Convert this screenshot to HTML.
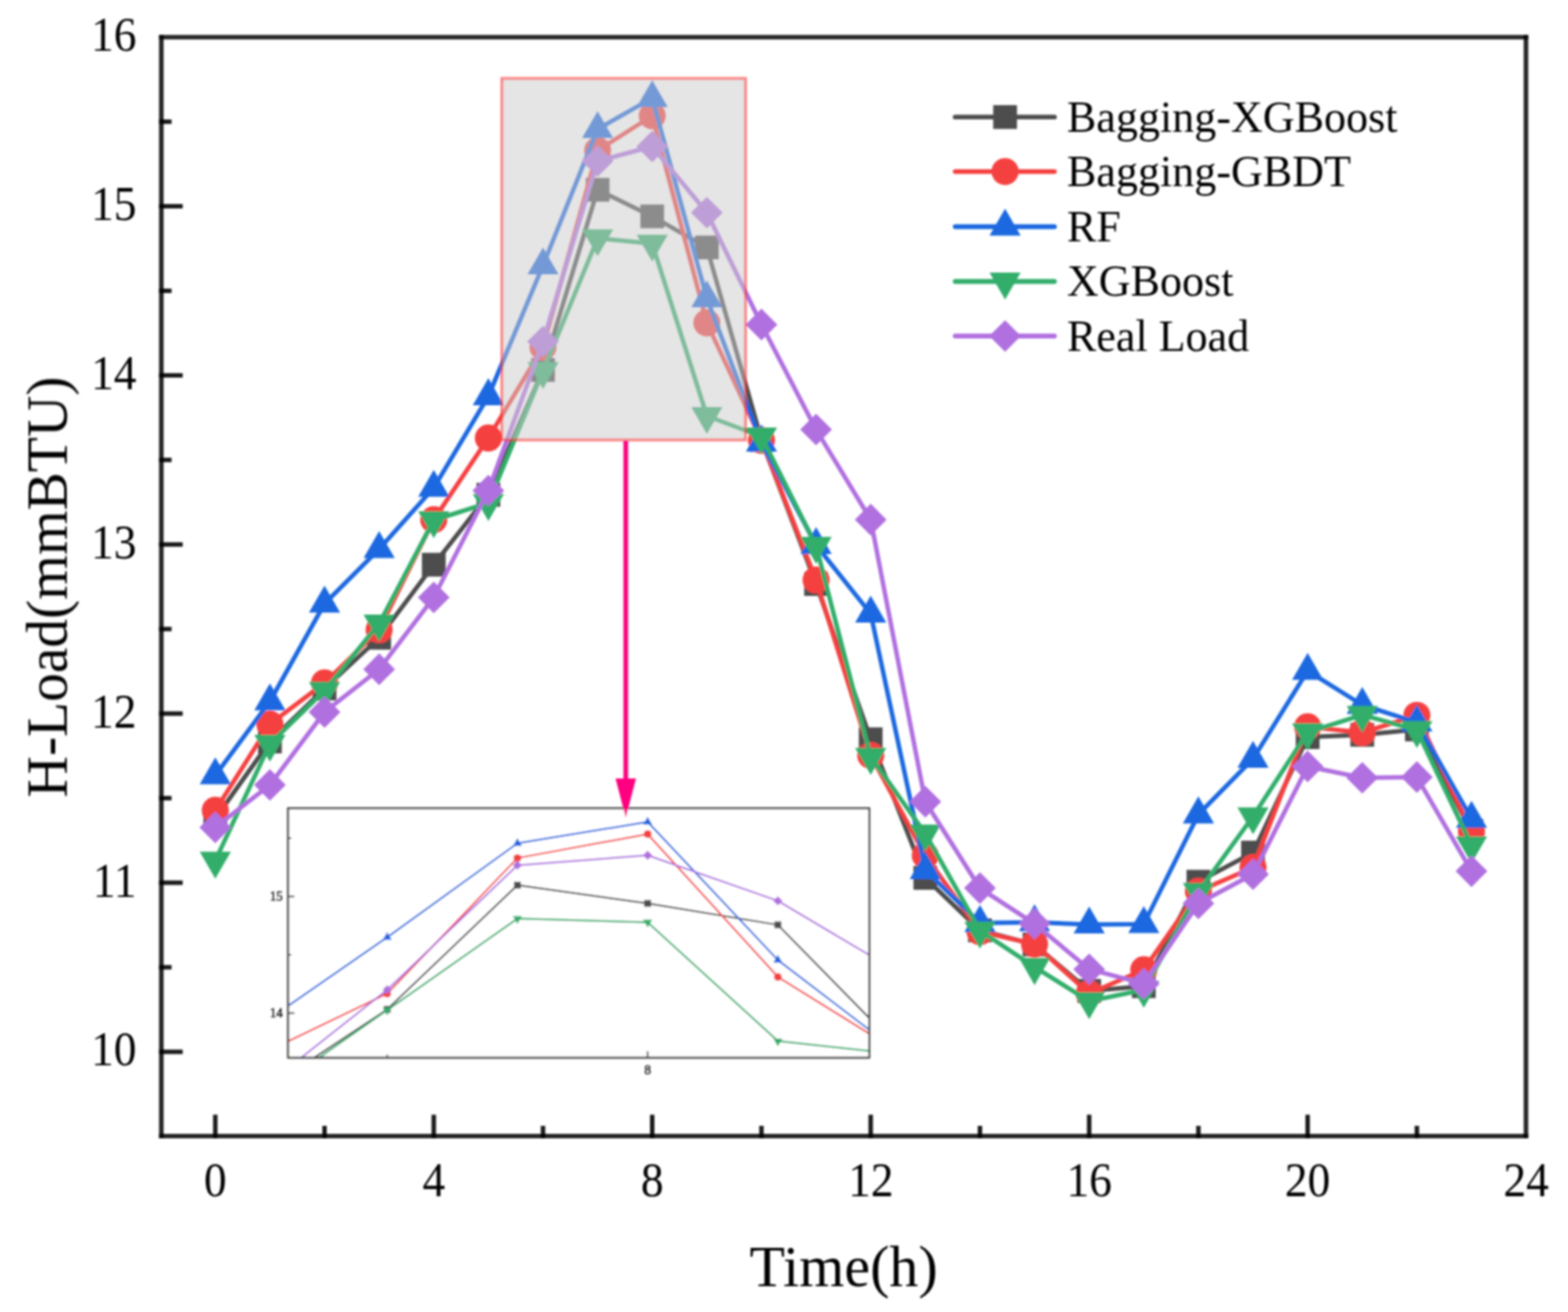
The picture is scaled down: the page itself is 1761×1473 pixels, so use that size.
<!DOCTYPE html>
<html lang="en"><head><meta charset="utf-8"><title>H-Load forecast comparison</title>
<style>html,body{margin:0;padding:0;background:#fff;}body{width:1761px;height:1473px;overflow:hidden;}svg{display:block;}text{font-family:"Liberation Serif","Times New Roman",serif;fill:#000;}</style>
</head><body>
<svg width="1761" height="1473" viewBox="0 0 1761 1473">
<defs><filter id="bl" x="-2%" y="-2%" width="104%" height="104%"><feGaussianBlur stdDeviation="0.8"/></filter></defs>
<rect x="0" y="0" width="1761" height="1473" fill="#ffffff"/>
<g filter="url(#bl)">
<g id="series" stroke-linejoin="round" stroke-linecap="round">
<polyline points="241.80,919.00 303.14,832.50 364.48,773.00 425.82,716.00 487.16,634.00 548.50,555.50 609.84,415.40 671.18,213.10 732.52,242.90 793.86,277.80 855.20,494.00 916.54,655.70 977.88,830.00 1039.22,985.60 1100.56,1044.50 1161.90,1060.40 1223.24,1112.50 1284.58,1107.20 1345.92,989.90 1407.26,957.20 1468.60,827.60 1529.94,825.00 1591.28,819.00 1652.62,933.00" fill="none" stroke="#4d4d4d" stroke-width="5.0"/>
<rect x="228.45" y="905.65" width="26.70" height="26.70" fill="#4d4d4d"/>
<rect x="289.79" y="819.15" width="26.70" height="26.70" fill="#4d4d4d"/>
<rect x="351.13" y="759.65" width="26.70" height="26.70" fill="#4d4d4d"/>
<rect x="412.47" y="702.65" width="26.70" height="26.70" fill="#4d4d4d"/>
<rect x="473.81" y="620.65" width="26.70" height="26.70" fill="#4d4d4d"/>
<rect x="535.15" y="542.15" width="26.70" height="26.70" fill="#4d4d4d"/>
<rect x="596.49" y="402.05" width="26.70" height="26.70" fill="#4d4d4d"/>
<rect x="657.83" y="199.75" width="26.70" height="26.70" fill="#4d4d4d"/>
<rect x="719.17" y="229.55" width="26.70" height="26.70" fill="#4d4d4d"/>
<rect x="780.51" y="264.45" width="26.70" height="26.70" fill="#4d4d4d"/>
<rect x="841.85" y="480.65" width="26.70" height="26.70" fill="#4d4d4d"/>
<rect x="903.19" y="642.35" width="26.70" height="26.70" fill="#4d4d4d"/>
<rect x="964.53" y="816.65" width="26.70" height="26.70" fill="#4d4d4d"/>
<rect x="1025.87" y="972.25" width="26.70" height="26.70" fill="#4d4d4d"/>
<rect x="1087.21" y="1031.15" width="26.70" height="26.70" fill="#4d4d4d"/>
<rect x="1148.55" y="1047.05" width="26.70" height="26.70" fill="#4d4d4d"/>
<rect x="1209.89" y="1099.15" width="26.70" height="26.70" fill="#4d4d4d"/>
<rect x="1271.23" y="1093.85" width="26.70" height="26.70" fill="#4d4d4d"/>
<rect x="1332.57" y="976.55" width="26.70" height="26.70" fill="#4d4d4d"/>
<rect x="1393.91" y="943.85" width="26.70" height="26.70" fill="#4d4d4d"/>
<rect x="1455.25" y="814.25" width="26.70" height="26.70" fill="#4d4d4d"/>
<rect x="1516.59" y="811.65" width="26.70" height="26.70" fill="#4d4d4d"/>
<rect x="1577.93" y="805.65" width="26.70" height="26.70" fill="#4d4d4d"/>
<rect x="1639.27" y="919.65" width="26.70" height="26.70" fill="#4d4d4d"/>
<polyline points="241.80,909.80 303.14,813.00 364.48,766.70 425.82,707.00 487.16,583.50 548.50,491.70 609.84,389.80 671.18,169.00 732.52,130.00 793.86,362.50 855.20,494.20 916.54,651.20 977.88,848.10 1039.22,960.60 1100.56,1046.00 1161.90,1060.10 1223.24,1115.50 1284.58,1088.70 1345.92,1000.60 1407.26,974.00 1468.60,815.90 1529.94,822.50 1591.28,803.10 1652.62,933.80" fill="none" stroke="#f54040" stroke-width="5.0"/>
<circle cx="241.80" cy="909.80" r="15.20" fill="#f54040"/>
<circle cx="303.14" cy="813.00" r="15.20" fill="#f54040"/>
<circle cx="364.48" cy="766.70" r="15.20" fill="#f54040"/>
<circle cx="425.82" cy="707.00" r="15.20" fill="#f54040"/>
<circle cx="487.16" cy="583.50" r="15.20" fill="#f54040"/>
<circle cx="548.50" cy="491.70" r="15.20" fill="#f54040"/>
<circle cx="609.84" cy="389.80" r="15.20" fill="#f54040"/>
<circle cx="671.18" cy="169.00" r="15.20" fill="#f54040"/>
<circle cx="732.52" cy="130.00" r="15.20" fill="#f54040"/>
<circle cx="793.86" cy="362.50" r="15.20" fill="#f54040"/>
<circle cx="855.20" cy="494.20" r="15.20" fill="#f54040"/>
<circle cx="916.54" cy="651.20" r="15.20" fill="#f54040"/>
<circle cx="977.88" cy="848.10" r="15.20" fill="#f54040"/>
<circle cx="1039.22" cy="960.60" r="15.20" fill="#f54040"/>
<circle cx="1100.56" cy="1046.00" r="15.20" fill="#f54040"/>
<circle cx="1161.90" cy="1060.10" r="15.20" fill="#f54040"/>
<circle cx="1223.24" cy="1115.50" r="15.20" fill="#f54040"/>
<circle cx="1284.58" cy="1088.70" r="15.20" fill="#f54040"/>
<circle cx="1345.92" cy="1000.60" r="15.20" fill="#f54040"/>
<circle cx="1407.26" cy="974.00" r="15.20" fill="#f54040"/>
<circle cx="1468.60" cy="815.90" r="15.20" fill="#f54040"/>
<circle cx="1529.94" cy="822.50" r="15.20" fill="#f54040"/>
<circle cx="1591.28" cy="803.10" r="15.20" fill="#f54040"/>
<circle cx="1652.62" cy="933.80" r="15.20" fill="#f54040"/>
<polyline points="241.80,870.40 303.14,787.50 364.48,677.70 425.82,616.50 487.16,547.70 548.50,444.80 609.84,298.00 671.18,145.00 732.52,110.20 793.86,335.00 855.20,496.80 916.54,612.00 977.88,689.00 1039.22,976.80 1100.56,1036.30 1161.90,1035.40 1223.24,1038.00 1284.58,1037.50 1345.92,914.30 1407.26,852.00 1468.60,753.20 1529.94,791.50 1591.28,811.10 1652.62,919.30" fill="none" stroke="#1a68e0" stroke-width="5.0"/>
<polygon points="241.80,850.20 259.30,880.50 224.30,880.50" fill="#1a68e0"/>
<polygon points="303.14,767.30 320.64,797.60 285.64,797.60" fill="#1a68e0"/>
<polygon points="364.48,657.50 381.98,687.80 346.98,687.80" fill="#1a68e0"/>
<polygon points="425.82,596.30 443.32,626.60 408.32,626.60" fill="#1a68e0"/>
<polygon points="487.16,527.50 504.66,557.80 469.66,557.80" fill="#1a68e0"/>
<polygon points="548.50,424.60 566.00,454.90 531.00,454.90" fill="#1a68e0"/>
<polygon points="609.84,277.80 627.34,308.10 592.34,308.10" fill="#1a68e0"/>
<polygon points="671.18,124.80 688.68,155.10 653.68,155.10" fill="#1a68e0"/>
<polygon points="732.52,90.00 750.02,120.30 715.02,120.30" fill="#1a68e0"/>
<polygon points="793.86,314.80 811.36,345.10 776.36,345.10" fill="#1a68e0"/>
<polygon points="855.20,476.60 872.70,506.90 837.70,506.90" fill="#1a68e0"/>
<polygon points="916.54,591.80 934.04,622.10 899.04,622.10" fill="#1a68e0"/>
<polygon points="977.88,668.80 995.38,699.10 960.38,699.10" fill="#1a68e0"/>
<polygon points="1039.22,956.60 1056.72,986.90 1021.72,986.90" fill="#1a68e0"/>
<polygon points="1100.56,1016.10 1118.06,1046.40 1083.06,1046.40" fill="#1a68e0"/>
<polygon points="1161.90,1015.20 1179.40,1045.50 1144.40,1045.50" fill="#1a68e0"/>
<polygon points="1223.24,1017.80 1240.74,1048.10 1205.74,1048.10" fill="#1a68e0"/>
<polygon points="1284.58,1017.30 1302.08,1047.60 1267.08,1047.60" fill="#1a68e0"/>
<polygon points="1345.92,894.10 1363.42,924.40 1328.42,924.40" fill="#1a68e0"/>
<polygon points="1407.26,831.80 1424.76,862.10 1389.76,862.10" fill="#1a68e0"/>
<polygon points="1468.60,733.00 1486.10,763.30 1451.10,763.30" fill="#1a68e0"/>
<polygon points="1529.94,771.30 1547.44,801.60 1512.44,801.60" fill="#1a68e0"/>
<polygon points="1591.28,790.90 1608.78,821.20 1573.78,821.20" fill="#1a68e0"/>
<polygon points="1652.62,899.10 1670.12,929.40 1635.12,929.40" fill="#1a68e0"/>
<polyline points="241.80,966.30 303.14,835.00 364.48,775.50 425.82,700.20 487.16,584.00 548.50,564.70 609.84,416.60 671.18,267.60 732.52,273.60 793.86,467.00 855.20,490.00 916.54,612.90 977.88,849.80 1039.22,935.90 1100.56,1044.80 1161.90,1085.70 1223.24,1124.00 1284.58,1111.20 1345.92,1001.30 1407.26,916.60 1468.60,822.20 1529.94,802.60 1591.28,819.60 1652.62,949.10" fill="none" stroke="#30ad6b" stroke-width="5.0"/>
<polygon points="241.80,986.50 259.30,956.20 224.30,956.20" fill="#30ad6b"/>
<polygon points="303.14,855.20 320.64,824.90 285.64,824.90" fill="#30ad6b"/>
<polygon points="364.48,795.70 381.98,765.40 346.98,765.40" fill="#30ad6b"/>
<polygon points="425.82,720.40 443.32,690.10 408.32,690.10" fill="#30ad6b"/>
<polygon points="487.16,604.20 504.66,573.90 469.66,573.90" fill="#30ad6b"/>
<polygon points="548.50,584.90 566.00,554.60 531.00,554.60" fill="#30ad6b"/>
<polygon points="609.84,436.80 627.34,406.50 592.34,406.50" fill="#30ad6b"/>
<polygon points="671.18,287.80 688.68,257.50 653.68,257.50" fill="#30ad6b"/>
<polygon points="732.52,293.80 750.02,263.50 715.02,263.50" fill="#30ad6b"/>
<polygon points="793.86,487.20 811.36,456.90 776.36,456.90" fill="#30ad6b"/>
<polygon points="855.20,510.20 872.70,479.90 837.70,479.90" fill="#30ad6b"/>
<polygon points="916.54,633.10 934.04,602.80 899.04,602.80" fill="#30ad6b"/>
<polygon points="977.88,870.00 995.38,839.70 960.38,839.70" fill="#30ad6b"/>
<polygon points="1039.22,956.10 1056.72,925.80 1021.72,925.80" fill="#30ad6b"/>
<polygon points="1100.56,1065.00 1118.06,1034.70 1083.06,1034.70" fill="#30ad6b"/>
<polygon points="1161.90,1105.90 1179.40,1075.60 1144.40,1075.60" fill="#30ad6b"/>
<polygon points="1223.24,1144.20 1240.74,1113.90 1205.74,1113.90" fill="#30ad6b"/>
<polygon points="1284.58,1131.40 1302.08,1101.10 1267.08,1101.10" fill="#30ad6b"/>
<polygon points="1345.92,1021.50 1363.42,991.20 1328.42,991.20" fill="#30ad6b"/>
<polygon points="1407.26,936.80 1424.76,906.50 1389.76,906.50" fill="#30ad6b"/>
<polygon points="1468.60,842.40 1486.10,812.10 1451.10,812.10" fill="#30ad6b"/>
<polygon points="1529.94,822.80 1547.44,792.50 1512.44,792.50" fill="#30ad6b"/>
<polygon points="1591.28,839.80 1608.78,809.50 1573.78,809.50" fill="#30ad6b"/>
<polygon points="1652.62,969.30 1670.12,939.00 1635.12,939.00" fill="#30ad6b"/>
<polyline points="241.80,928.90 303.14,881.20 364.48,799.40 425.82,751.40 487.16,670.70 548.50,550.80 609.84,383.50 671.18,180.70 732.52,164.50 793.86,238.70 855.20,364.40 916.54,482.30 977.88,583.40 1039.22,900.10 1100.56,997.10 1161.90,1037.10 1223.24,1088.20 1284.58,1104.40 1345.92,1014.20 1407.26,981.50 1468.60,860.50 1529.94,873.30 1591.28,872.40 1652.62,978.10" fill="none" stroke="#b070e0" stroke-width="5.0"/>
<polygon points="241.80,911.10 259.60,928.90 241.80,946.70 224.00,928.90" fill="#b070e0"/>
<polygon points="303.14,863.40 320.94,881.20 303.14,899.00 285.34,881.20" fill="#b070e0"/>
<polygon points="364.48,781.60 382.28,799.40 364.48,817.20 346.68,799.40" fill="#b070e0"/>
<polygon points="425.82,733.60 443.62,751.40 425.82,769.20 408.02,751.40" fill="#b070e0"/>
<polygon points="487.16,652.90 504.96,670.70 487.16,688.50 469.36,670.70" fill="#b070e0"/>
<polygon points="548.50,533.00 566.30,550.80 548.50,568.60 530.70,550.80" fill="#b070e0"/>
<polygon points="609.84,365.70 627.64,383.50 609.84,401.30 592.04,383.50" fill="#b070e0"/>
<polygon points="671.18,162.90 688.98,180.70 671.18,198.50 653.38,180.70" fill="#b070e0"/>
<polygon points="732.52,146.70 750.32,164.50 732.52,182.30 714.72,164.50" fill="#b070e0"/>
<polygon points="793.86,220.90 811.66,238.70 793.86,256.50 776.06,238.70" fill="#b070e0"/>
<polygon points="855.20,346.60 873.00,364.40 855.20,382.20 837.40,364.40" fill="#b070e0"/>
<polygon points="916.54,464.50 934.34,482.30 916.54,500.10 898.74,482.30" fill="#b070e0"/>
<polygon points="977.88,565.60 995.68,583.40 977.88,601.20 960.08,583.40" fill="#b070e0"/>
<polygon points="1039.22,882.30 1057.02,900.10 1039.22,917.90 1021.42,900.10" fill="#b070e0"/>
<polygon points="1100.56,979.30 1118.36,997.10 1100.56,1014.90 1082.76,997.10" fill="#b070e0"/>
<polygon points="1161.90,1019.30 1179.70,1037.10 1161.90,1054.90 1144.10,1037.10" fill="#b070e0"/>
<polygon points="1223.24,1070.40 1241.04,1088.20 1223.24,1106.00 1205.44,1088.20" fill="#b070e0"/>
<polygon points="1284.58,1086.60 1302.38,1104.40 1284.58,1122.20 1266.78,1104.40" fill="#b070e0"/>
<polygon points="1345.92,996.40 1363.72,1014.20 1345.92,1032.00 1328.12,1014.20" fill="#b070e0"/>
<polygon points="1407.26,963.70 1425.06,981.50 1407.26,999.30 1389.46,981.50" fill="#b070e0"/>
<polygon points="1468.60,842.70 1486.40,860.50 1468.60,878.30 1450.80,860.50" fill="#b070e0"/>
<polygon points="1529.94,855.50 1547.74,873.30 1529.94,891.10 1512.14,873.30" fill="#b070e0"/>
<polygon points="1591.28,854.60 1609.08,872.40 1591.28,890.20 1573.48,872.40" fill="#b070e0"/>
<polygon points="1652.62,960.30 1670.42,978.10 1652.62,995.90 1634.82,978.10" fill="#b070e0"/>
</g>
<rect x="563.6" y="88.0" width="273.7" height="405.9" fill="#cccccc" fill-opacity="0.5" stroke="#ff2a2a" stroke-opacity="0.55" stroke-width="3.2"/>
<clipPath id="ic"><rect x="323.6" y="907.5" width="652.6" height="279.9"/></clipPath>
<rect x="323.6" y="907.5" width="652.6" height="279.9" fill="#ffffff" stroke="none"/>
<g clip-path="url(#ic)" stroke-linejoin="round">
<polyline points="142.34,1284.01 288.60,1229.88 434.85,1133.27 581.11,993.77 727.37,1014.32 873.62,1038.38 1019.88,1187.47 1166.14,1298.97" fill="none" stroke="#4d4d4d" stroke-width="2.0"/>
<rect x="284.72" y="1226.01" width="7.74" height="7.74" fill="#4d4d4d"/>
<rect x="430.98" y="1129.40" width="7.74" height="7.74" fill="#4d4d4d"/>
<rect x="577.24" y="989.89" width="7.74" height="7.74" fill="#4d4d4d"/>
<rect x="723.50" y="1010.44" width="7.74" height="7.74" fill="#4d4d4d"/>
<rect x="869.75" y="1034.51" width="7.74" height="7.74" fill="#4d4d4d"/>
<rect x="1016.01" y="1183.60" width="7.74" height="7.74" fill="#4d4d4d"/>
<polyline points="142.34,1249.19 288.60,1185.88 434.85,1115.61 581.11,963.36 727.37,936.46 873.62,1096.79 1019.88,1187.61 1166.14,1295.87" fill="none" stroke="#f54040" stroke-width="2.0"/>
<circle cx="288.60" cy="1185.88" r="4.41" fill="#f54040"/>
<circle cx="434.85" cy="1115.61" r="4.41" fill="#f54040"/>
<circle cx="581.11" cy="963.36" r="4.41" fill="#f54040"/>
<circle cx="727.37" cy="936.46" r="4.41" fill="#f54040"/>
<circle cx="873.62" cy="1096.79" r="4.41" fill="#f54040"/>
<circle cx="1019.88" cy="1187.61" r="4.41" fill="#f54040"/>
<polyline points="142.34,1224.50 288.60,1153.54 434.85,1052.31 581.11,946.81 727.37,922.81 873.62,1077.83 1019.88,1189.40 1166.14,1268.84" fill="none" stroke="#1a68e0" stroke-width="2.0"/>
<polygon points="288.60,1147.68 293.67,1156.47 283.52,1156.47" fill="#1a68e0"/>
<polygon points="434.85,1046.45 439.93,1055.24 429.78,1055.24" fill="#1a68e0"/>
<polygon points="581.11,940.95 586.18,949.73 576.03,949.73" fill="#1a68e0"/>
<polygon points="727.37,916.95 732.44,925.74 722.29,925.74" fill="#1a68e0"/>
<polygon points="873.62,1071.97 878.70,1080.75 868.55,1080.75" fill="#1a68e0"/>
<polygon points="1019.88,1183.54 1024.96,1192.33 1014.81,1192.33" fill="#1a68e0"/>
<polyline points="142.34,1249.53 288.60,1236.22 434.85,1134.10 581.11,1031.35 727.37,1035.49 873.62,1168.85 1019.88,1184.71 1166.14,1269.46" fill="none" stroke="#30ad6b" stroke-width="2.0"/>
<polygon points="288.60,1242.08 293.67,1233.29 283.52,1233.29" fill="#30ad6b"/>
<polygon points="434.85,1139.95 439.93,1131.17 429.78,1131.17" fill="#30ad6b"/>
<polygon points="581.11,1037.21 586.18,1028.42 576.03,1028.42" fill="#30ad6b"/>
<polygon points="727.37,1041.34 732.44,1032.56 722.29,1032.56" fill="#30ad6b"/>
<polygon points="873.62,1174.71 878.70,1165.92 868.55,1165.92" fill="#30ad6b"/>
<polygon points="1019.88,1190.57 1024.96,1181.78 1014.81,1181.78" fill="#30ad6b"/>
<polyline points="142.34,1309.32 288.60,1226.64 434.85,1111.27 581.11,971.42 727.37,960.25 873.62,1011.42 1019.88,1098.10 1166.14,1179.40" fill="none" stroke="#b070e0" stroke-width="2.0"/>
<polygon points="288.60,1221.48 293.76,1226.64 288.60,1231.80 283.43,1226.64" fill="#b070e0"/>
<polygon points="434.85,1106.11 440.01,1111.27 434.85,1116.43 429.69,1111.27" fill="#b070e0"/>
<polygon points="581.11,966.26 586.27,971.42 581.11,976.59 575.95,971.42" fill="#b070e0"/>
<polygon points="727.37,955.09 732.53,960.25 727.37,965.41 722.20,960.25" fill="#b070e0"/>
<polygon points="873.62,1006.26 878.79,1011.42 873.62,1016.58 868.46,1011.42" fill="#b070e0"/>
<polygon points="1019.88,1092.94 1025.04,1098.10 1019.88,1103.26 1014.72,1098.10" fill="#b070e0"/>
</g>
<rect x="323.6" y="907.5" width="652.6" height="279.9" fill="none" stroke="#3a3a3a" stroke-width="2.2"/>
<line x1="323.6" y1="1137.42" x2="330.6" y2="1137.42" stroke="#444444" stroke-width="1.8"/>
<text x="317.6" y="1142.02" font-size="14.5" text-anchor="end" style="fill:#1a1a1a;stroke:#1a1a1a;stroke-width:0.45">14</text>
<line x1="323.6" y1="1071.95" x2="327.1" y2="1071.95" stroke="#444444" stroke-width="1.8"/>
<line x1="323.6" y1="1006.49" x2="330.6" y2="1006.49" stroke="#444444" stroke-width="1.8"/>
<text x="317.6" y="1011.09" font-size="14.5" text-anchor="end" style="fill:#1a1a1a;stroke:#1a1a1a;stroke-width:0.45">15</text>
<line x1="323.6" y1="941.02" x2="327.1" y2="941.02" stroke="#444444" stroke-width="1.8"/>
<line x1="434.85" y1="1187.4" x2="434.85" y2="1183.9" stroke="#444444" stroke-width="1.8"/>
<line x1="727.37" y1="1187.4" x2="727.37" y2="1180.4" stroke="#444444" stroke-width="1.8"/>
<text x="727.37" y="1205.90" font-size="14.5" text-anchor="middle" style="fill:#1a1a1a;stroke:#1a1a1a;stroke-width:0.45">8</text>
<line x1="702.8" y1="495" x2="702.8" y2="880" stroke="#ff0080" stroke-width="5.2"/>
<polygon points="691.3,874 714.3,874 702.8,918" fill="#ff0080"/>
<g stroke="#000000" stroke-opacity="0.86" stroke-width="5.1" fill="none">
<line x1="181.2" y1="39.15" x2="181.2" y2="1278.05"/>
<line x1="1713.8" y1="39.15" x2="1713.8" y2="1278.05"/>
<line x1="178.65" y1="41.7" x2="1716.35" y2="41.7"/>
<line x1="178.65" y1="1275.5" x2="1716.35" y2="1275.5"/>
</g>
<g stroke="#000000" stroke-opacity="0.9" stroke-width="5.0">
<line x1="178.65" y1="1180.90" x2="205.2" y2="1180.90"/>
<line x1="178.65" y1="1085.97" x2="192.7" y2="1085.97"/>
<line x1="178.65" y1="991.03" x2="205.2" y2="991.03"/>
<line x1="178.65" y1="896.10" x2="192.7" y2="896.10"/>
<line x1="178.65" y1="801.16" x2="205.2" y2="801.16"/>
<line x1="178.65" y1="706.23" x2="192.7" y2="706.23"/>
<line x1="178.65" y1="611.29" x2="205.2" y2="611.29"/>
<line x1="178.65" y1="516.36" x2="192.7" y2="516.36"/>
<line x1="178.65" y1="421.42" x2="205.2" y2="421.42"/>
<line x1="178.65" y1="326.49" x2="192.7" y2="326.49"/>
<line x1="178.65" y1="231.55" x2="205.2" y2="231.55"/>
<line x1="178.65" y1="136.62" x2="192.7" y2="136.62"/>
<line x1="241.80" y1="1278.05" x2="241.80" y2="1251.5"/>
<line x1="364.48" y1="1278.05" x2="364.48" y2="1264.0"/>
<line x1="487.16" y1="1278.05" x2="487.16" y2="1251.5"/>
<line x1="609.84" y1="1278.05" x2="609.84" y2="1264.0"/>
<line x1="732.52" y1="1278.05" x2="732.52" y2="1251.5"/>
<line x1="855.20" y1="1278.05" x2="855.20" y2="1264.0"/>
<line x1="977.88" y1="1278.05" x2="977.88" y2="1251.5"/>
<line x1="1100.56" y1="1278.05" x2="1100.56" y2="1264.0"/>
<line x1="1223.24" y1="1278.05" x2="1223.24" y2="1251.5"/>
<line x1="1345.92" y1="1278.05" x2="1345.92" y2="1264.0"/>
<line x1="1468.60" y1="1278.05" x2="1468.60" y2="1251.5"/>
<line x1="1591.28" y1="1278.05" x2="1591.28" y2="1264.0"/>
</g>
<text transform="translate(153.30,1196.40) scale(0.945,1)" font-size="54" text-anchor="end">10</text>
<text transform="translate(153.30,1006.53) scale(0.945,1)" font-size="54" text-anchor="end">11</text>
<text transform="translate(153.30,816.66) scale(0.945,1)" font-size="54" text-anchor="end">12</text>
<text transform="translate(153.30,626.79) scale(0.945,1)" font-size="54" text-anchor="end">13</text>
<text transform="translate(153.30,436.92) scale(0.945,1)" font-size="54" text-anchor="end">14</text>
<text transform="translate(153.30,247.05) scale(0.945,1)" font-size="54" text-anchor="end">15</text>
<text transform="translate(153.30,57.18) scale(0.945,1)" font-size="54" text-anchor="end">16</text>
<text transform="translate(241.80,1343.30) scale(0.945,1)" font-size="54" text-anchor="middle">0</text>
<text transform="translate(487.16,1343.30) scale(0.945,1)" font-size="54" text-anchor="middle">4</text>
<text transform="translate(732.52,1343.30) scale(0.945,1)" font-size="54" text-anchor="middle">8</text>
<text transform="translate(977.88,1343.30) scale(0.945,1)" font-size="54" text-anchor="middle">12</text>
<text transform="translate(1223.24,1343.30) scale(0.945,1)" font-size="54" text-anchor="middle">16</text>
<text transform="translate(1468.60,1343.30) scale(0.945,1)" font-size="54" text-anchor="middle">20</text>
<text transform="translate(1713.96,1343.30) scale(0.945,1)" font-size="54" text-anchor="middle">24</text>
<text transform="translate(947.50,1444.00) scale(0.985,1)" font-size="66.2" text-anchor="middle">Time(h)</text>
<text transform="translate(75.00,659.00) rotate(-90) scale(0.977,1)" font-size="66.0" text-anchor="middle">H-Load(mmBTU)</text>
<line x1="1072.8" y1="131.4" x2="1184.2" y2="131.4" stroke="#4d4d4d" stroke-width="5.4" stroke-linecap="round"/>
<rect x="1115.45" y="118.05" width="26.70" height="26.70" fill="#4d4d4d"/>
<text transform="translate(1198.30,147.70) scale(0.961,1)" font-size="51.5" text-anchor="start">Bagging-XGBoost</text>
<line x1="1072.8" y1="192.6" x2="1184.2" y2="192.6" stroke="#f54040" stroke-width="5.4" stroke-linecap="round"/>
<circle cx="1128.80" cy="192.60" r="15.20" fill="#f54040"/>
<text transform="translate(1198.30,208.90) scale(0.961,1)" font-size="51.5" text-anchor="start">Bagging-GBDT</text>
<line x1="1072.8" y1="254.5" x2="1184.2" y2="254.5" stroke="#1a68e0" stroke-width="5.4" stroke-linecap="round"/>
<polygon points="1128.80,234.30 1146.30,264.60 1111.30,264.60" fill="#1a68e0"/>
<text transform="translate(1198.30,270.80) scale(0.961,1)" font-size="51.5" text-anchor="start">RF</text>
<line x1="1072.8" y1="316.0" x2="1184.2" y2="316.0" stroke="#30ad6b" stroke-width="5.4" stroke-linecap="round"/>
<polygon points="1128.80,336.20 1146.30,305.90 1111.30,305.90" fill="#30ad6b"/>
<text transform="translate(1198.30,332.30) scale(0.961,1)" font-size="51.5" text-anchor="start">XGBoost</text>
<line x1="1072.8" y1="377.3" x2="1184.2" y2="377.3" stroke="#b070e0" stroke-width="5.4" stroke-linecap="round"/>
<polygon points="1128.80,359.50 1146.60,377.30 1128.80,395.10 1111.00,377.30" fill="#b070e0"/>
<text transform="translate(1198.30,393.60) scale(0.961,1)" font-size="51.5" text-anchor="start">Real Load</text>
</g>
</svg>
</body></html>
